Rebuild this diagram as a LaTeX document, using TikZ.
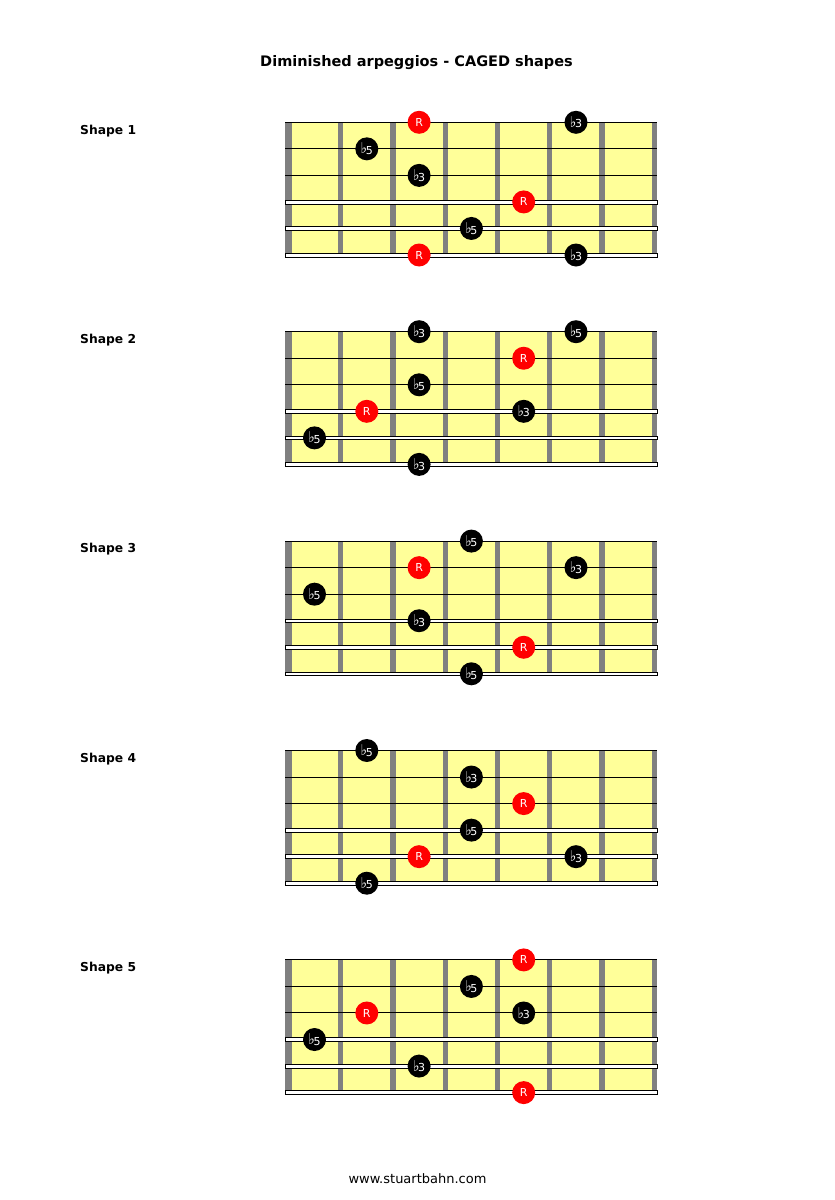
\documentclass[tikz,border=0pt]{standalone}
\usepackage{fontspec}
\setmainfont{DejaVu Sans}
\definecolor{fretyellow}{HTML}{FFFF99}
\definecolor{fretgray}{HTML}{808080}
\definecolor{dotred}{HTML}{FF0000}
\newcommand{\flt}{\raisebox{0.1ex}{\scalebox{1.25}[1.35]{♭}}\kern-0.12em}
\tikzset{
  yellowfill/.style={fill=fretyellow},
  fretbar/.style={fill=fretgray},
  plainstring/.style={draw=black,line width=1pt},
  woundstring/.style={fill=white,draw=black,line width=0.6pt},
  notedot/.style={circle,minimum size=23pt,inner sep=0pt,text=white,font=\fontsize{11}{12}\selectfont},
  rootdot/.style={notedot,fill=dotred},
  otherdot/.style={notedot,fill=black},
  shapelabel/.style={anchor=base west,inner sep=0pt,font=\bfseries\fontsize{12.3}{14}\selectfont},
  titlelabel/.style={anchor=base,inner sep=0pt,font=\bfseries\fontsize{14.5}{16}\selectfont},
  footlabel/.style={anchor=base,inner sep=0pt,font=\fontsize{13}{15}\selectfont},
}
% board frame: drawn at top string y = 0 inside a shifted scope
\newcommand{\boardframe}{%
  \fill[yellowfill] (285,0) rectangle (657,132.7);
  \fill[fretbar] (285,0) rectangle (291.7,132.7);
  \foreach \i in {1,...,6}{\fill[fretbar] ({288.3+52.3*\i-2.65},0) rectangle ++(5.3,132.7);}
  \fill[fretbar] (651.7,0) rectangle (656.7,132.7);
  \foreach \k in {0,1,2}{\draw[plainstring] (285,{26.54*\k}) -- (657,{26.54*\k});}
  \foreach \k in {3,4,5}{\draw[woundstring] (285,{26.54*\k-1.9}) rectangle (657,{26.54*\k+1.9});}
}
% #1 name, #2 style, #3 column (1..7), #4 string (1..6), #5 text
\newcommand{\notedotat}[5]{\node[#2] (#1) at ({262.2+52.3*#3},{26.54*(#4-1)}) {#5};}
\begin{document}
\begin{tikzpicture}[x=1pt,y=-1pt]
\useasboundingbox (0,0) rectangle (835,1200);
\fill[white] (0,0) rectangle (835,1200);
\node[titlelabel] (title) at (416.5,66) {Diminished arpeggios - CAGED shapes};

% Shape 1
\begin{scope}[shift={(0,122.3)}]
  \boardframe
  \node[shapelabel] (lab1) at (80,11.7) {Shape 1};
  \notedotat{a1}{rootdot}{3}{1}{R}
  \notedotat{a2}{otherdot}{6}{1}{\flt3}
  \notedotat{a3}{otherdot}{2}{2}{\flt5}
  \notedotat{a4}{otherdot}{3}{3}{\flt3}
  \notedotat{a5}{rootdot}{5}{4}{R}
  \notedotat{a6}{otherdot}{4}{5}{\flt5}
  \notedotat{a7}{rootdot}{3}{6}{R}
  \notedotat{a8}{otherdot}{6}{6}{\flt3}
\end{scope}

% Shape 2
\begin{scope}[shift={(0,331.7)}]
  \boardframe
  \node[shapelabel] (lab2) at (80,11.7) {Shape 2};
  \notedotat{b1}{otherdot}{3}{1}{\flt3}
  \notedotat{b2}{otherdot}{6}{1}{\flt5}
  \notedotat{b3}{rootdot}{5}{2}{R}
  \notedotat{b4}{otherdot}{3}{3}{\flt5}
  \notedotat{b5}{rootdot}{2}{4}{R}
  \notedotat{b6}{otherdot}{5}{4}{\flt3}
  \notedotat{b7}{otherdot}{1}{5}{\flt5}
  \notedotat{b8}{otherdot}{3}{6}{\flt3}
\end{scope}

% Shape 3
\begin{scope}[shift={(0,541.1)}]
  \boardframe
  \node[shapelabel] (lab3) at (80,11.7) {Shape 3};
  \notedotat{c1}{otherdot}{4}{1}{\flt5}
  \notedotat{c2}{rootdot}{3}{2}{R}
  \notedotat{c3}{otherdot}{6}{2}{\flt3}
  \notedotat{c4}{otherdot}{1}{3}{\flt5}
  \notedotat{c5}{otherdot}{3}{4}{\flt3}
  \notedotat{c6}{rootdot}{5}{5}{R}
  \notedotat{c7}{otherdot}{4}{6}{\flt5}
\end{scope}

% Shape 4
\begin{scope}[shift={(0,750.5)}]
  \boardframe
  \node[shapelabel] (lab4) at (80,11.7) {Shape 4};
  \notedotat{d1}{otherdot}{2}{1}{\flt5}
  \notedotat{d2}{otherdot}{4}{2}{\flt3}
  \notedotat{d3}{rootdot}{5}{3}{R}
  \notedotat{d4}{otherdot}{4}{4}{\flt5}
  \notedotat{d5}{rootdot}{3}{5}{R}
  \notedotat{d6}{otherdot}{6}{5}{\flt3}
  \notedotat{d7}{otherdot}{2}{6}{\flt5}
\end{scope}

% Shape 5
\begin{scope}[shift={(0,959.9)}]
  \boardframe
  \node[shapelabel] (lab5) at (80,11.7) {Shape 5};
  \notedotat{e1}{rootdot}{5}{1}{R}
  \notedotat{e2}{otherdot}{4}{2}{\flt5}
  \notedotat{e3}{rootdot}{2}{3}{R}
  \notedotat{e4}{otherdot}{5}{3}{\flt3}
  \notedotat{e5}{otherdot}{1}{4}{\flt5}
  \notedotat{e6}{otherdot}{3}{5}{\flt3}
  \notedotat{e7}{rootdot}{5}{6}{R}
\end{scope}

\node[footlabel] (foot) at (417.5,1183) {www.stuartbahn.com};
\end{tikzpicture}
\end{document}
